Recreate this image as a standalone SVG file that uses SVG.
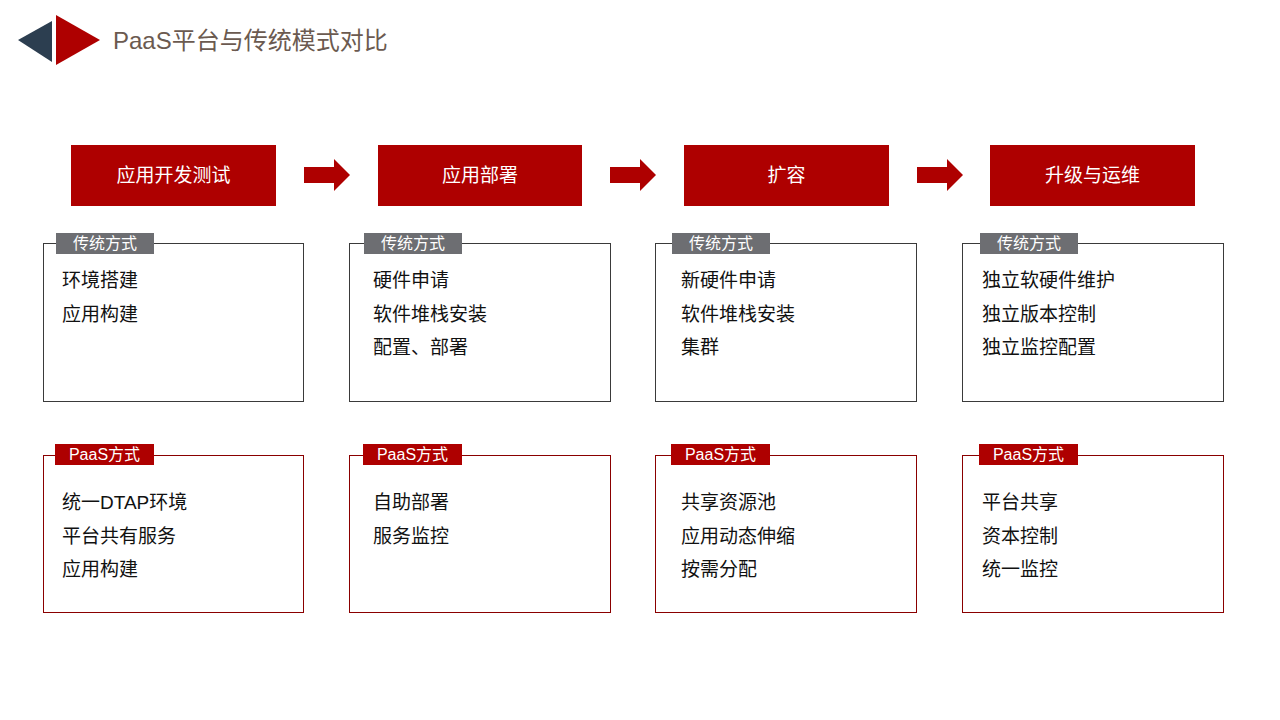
<svg xmlns="http://www.w3.org/2000/svg" width="1280" height="720" viewBox="0 0 1280 720">
<style>
text{font-family:"Liberation Sans","Noto Sans CJK SC",sans-serif}
.title{font-size:24px;fill:#6b5a50}
.step{fill:#ae0000}
.steptxt{font-size:19px;fill:#fff;text-anchor:middle}
.tbox{fill:#fff;stroke:#3a3a3a;stroke-width:1}
.pbox{fill:#fff;stroke:#8a0000;stroke-width:1}
.ttag{fill:#6d6e72}
.ptag{fill:#ae0000}
.tagtxt{font-size:16px;fill:#fff;text-anchor:middle}
.item{font-size:19px;fill:#111}
.arrow{fill:#ae0000}
</style>
<g id="header">
<polygon points="18,40 52,21 52,62" fill="#2c3e50"/>
<polygon points="56,15 100,40 56,65" fill="#ae0000"/>
<text class="title" x="113" y="49">PaaS平台与传统模式对比</text>
</g>
<g id="step1"><rect class="step" x="71" y="145" width="205" height="61"/><text class="steptxt" x="173.5" y="182">应用开发测试</text></g>
<g id="step2"><rect class="step" x="378" y="145" width="204" height="61"/><text class="steptxt" x="480" y="182">应用部署</text></g>
<g id="step3"><rect class="step" x="684" y="145" width="205" height="61"/><text class="steptxt" x="786.5" y="182">扩容</text></g>
<g id="step4"><rect class="step" x="990" y="145" width="205" height="61"/><text class="steptxt" x="1092.5" y="182">升级与运维</text></g>
<g id="connectors">
<polygon class="arrow" points="304,167 334,167 334,159 350,175 334,191 334,183 304,183"/>
<polygon class="arrow" points="610,167 640,167 640,159 656,175 640,191 640,183 610,183"/>
<polygon class="arrow" points="917,167 947,167 947,159 963,175 947,191 947,183 917,183"/>
</g>
<g id="trad1"><rect class="tbox" x="43.5" y="243.5" width="260" height="158"/><rect class="ttag" x="56" y="233" width="98" height="21"/><text class="tagtxt" x="105" y="249">传统方式</text>
<text class="item" x="62" y="287">环境搭建</text><text class="item" x="62" y="321">应用构建</text></g>
<g id="trad2"><rect class="tbox" x="349.5" y="243.5" width="261" height="158"/><rect class="ttag" x="364" y="233" width="98" height="21"/><text class="tagtxt" x="413" y="249">传统方式</text>
<text class="item" x="373" y="287">硬件申请</text><text class="item" x="373" y="321">软件堆栈安装</text><text class="item" x="373" y="354">配置、部署</text></g>
<g id="trad3"><rect class="tbox" x="655.5" y="243.5" width="261" height="158"/><rect class="ttag" x="672" y="233" width="98" height="21"/><text class="tagtxt" x="721" y="249">传统方式</text>
<text class="item" x="681" y="287">新硬件申请</text><text class="item" x="681" y="321">软件堆栈安装</text><text class="item" x="681" y="354">集群</text></g>
<g id="trad4"><rect class="tbox" x="962.5" y="243.5" width="261" height="158"/><rect class="ttag" x="980" y="233" width="98" height="21"/><text class="tagtxt" x="1029" y="249">传统方式</text>
<text class="item" x="982" y="287">独立软硬件维护</text><text class="item" x="982" y="321">独立版本控制</text><text class="item" x="982" y="354">独立监控配置</text></g>
<g id="paas1"><rect class="pbox" x="43.5" y="455.5" width="260" height="157"/><rect class="ptag" x="55" y="444" width="99" height="21"/><text class="tagtxt" x="104.5" y="460">PaaS方式</text>
<text class="item" x="62" y="509">统一DTAP环境</text><text class="item" x="62" y="543">平台共有服务</text><text class="item" x="62" y="576">应用构建</text></g>
<g id="paas2"><rect class="pbox" x="349.5" y="455.5" width="261" height="157"/><rect class="ptag" x="363" y="444" width="99" height="21"/><text class="tagtxt" x="412.5" y="460">PaaS方式</text>
<text class="item" x="373" y="509">自助部署</text><text class="item" x="373" y="543">服务监控</text></g>
<g id="paas3"><rect class="pbox" x="655.5" y="455.5" width="261" height="157"/><rect class="ptag" x="671" y="444" width="99" height="21"/><text class="tagtxt" x="720.5" y="460">PaaS方式</text>
<text class="item" x="681" y="509">共享资源池</text><text class="item" x="681" y="543">应用动态伸缩</text><text class="item" x="681" y="576">按需分配</text></g>
<g id="paas4"><rect class="pbox" x="962.5" y="455.5" width="261" height="157"/><rect class="ptag" x="979" y="444" width="99" height="21"/><text class="tagtxt" x="1028.5" y="460">PaaS方式</text>
<text class="item" x="982" y="509">平台共享</text><text class="item" x="982" y="543">资本控制</text><text class="item" x="982" y="576">统一监控</text></g>
</svg>
